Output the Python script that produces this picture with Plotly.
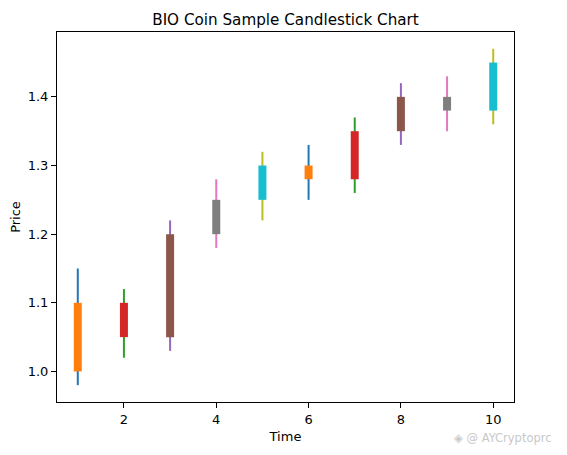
import plotly.graph_objects as go

# sample candle data for BIO coin
time = [1, 2, 3, 4, 5, 6, 7, 8, 9, 10]
open_ = [1.00, 1.05, 1.05, 1.20, 1.25, 1.28, 1.28, 1.35, 1.38, 1.38]
close = [1.10, 1.10, 1.20, 1.25, 1.30, 1.30, 1.35, 1.40, 1.40, 1.45]
high = [1.15, 1.12, 1.22, 1.28, 1.32, 1.33, 1.37, 1.42, 1.43, 1.47]
low = [0.98, 1.02, 1.03, 1.18, 1.22, 1.25, 1.26, 1.33, 1.35, 1.36]

tab10 = ['#1f77b4', '#ff7f0e', '#2ca02c', '#d62728', '#9467bd',
         '#8c564b', '#e377c2', '#7f7f7f', '#bcbd22', '#17becf']

fig = go.Figure()
c = 0
for t, o, cl, h, l in zip(time, open_, close, high, low):
    # wick (high-low) then body (open-close), colours cycle like matplotlib
    fig.add_trace(go.Scatter(x=[t, t], y=[l, h], mode='lines',
                             line=dict(color=tab10[c % 10], width=2),
                             hoverinfo='skip', showlegend=False))
    c += 1
    fig.add_trace(go.Scatter(x=[t, t], y=[o, cl], mode='lines',
                             line=dict(color=tab10[c % 10], width=8),
                             hoverinfo='skip', showlegend=False))
    c += 1

axis_style = dict(showline=True, linecolor='black', linewidth=1, mirror=True,
                  ticks='outside', ticklen=5, tickcolor='black',
                  showgrid=False, zeroline=False, automargin=False,
                  tickfont=dict(family='DejaVu Sans', size=13, color='black'))

# page body adds ~8px offset, so figure is a bit smaller than the window
fig.update_layout(
    width=559, height=447,
    margin=dict(l=49, r=53, t=24, b=53),
    plot_bgcolor='white', paper_bgcolor='white',
    title=dict(text='BIO Coin Sample Candlestick Chart', x=0.5, xref='paper', xanchor='center',
               y=0.973, yanchor='middle',
               font=dict(family='DejaVu Sans', size=15.2, color='black')),
    xaxis=dict(title=dict(text='Time', font=dict(family='DejaVu Sans', size=13, color='black'),
                          standoff=6),
               range=[0.55, 10.45], tickvals=[2, 4, 6, 8, 10], **axis_style),
    yaxis=dict(title=dict(text='Price', font=dict(family='DejaVu Sans', size=13, color='black'),
                          standoff=6),
               range=[0.9555, 1.4945], tickvals=[1.0, 1.1, 1.2, 1.3, 1.4],
               tickformat='.1f', **axis_style),
    annotations=[dict(text='◈ @ AYCryptoprc', x=(444 - 49) / 457, y=-(430 - 394) / 370,
                      xref='paper', yref='paper', xanchor='left', yanchor='middle',
                      showarrow=False,
                      font=dict(family='DejaVu Sans', size=11.5, color='#c8c8c8'))],
)

fig.write_html("out.html")
